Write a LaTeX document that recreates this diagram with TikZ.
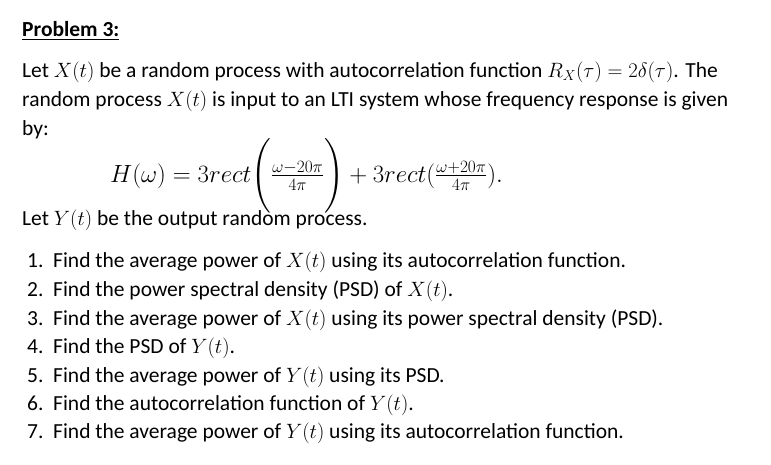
\documentclass[tikz,border=0pt]{standalone}
\usepackage{fontspec}
\usepackage{amsmath}
\setmainfont{Carlito}
\begin{document}
\begin{tikzpicture}[x=1pt,y=-1pt]
\useasboundingbox (0,0) rectangle (771,464);
\tikzset{ln/.style={anchor=base west,inner sep=0pt,font=\fontsize{21.5}{25}\selectfont}}
\node[ln,font=\fontsize{21.5}{25}\selectfont\bfseries] (title) at (22,36) {\underline{Problem 3:}};
\node[ln] (l1) at (22,77) {Let $X(t)$ be a random process with autocorrelation function $R_X(\tau)=2\delta(\tau)$. The};
\node[ln] (l2) at (22,106) {random process $X(t)$ is input to an LTI system whose frequency response is given};
\node[ln] (l3) at (22,135) {by:};
\node[ln,font=\fontsize{23}{27}\selectfont] (eq) at (110,182) {$H(\omega)=3rect\Biggl(\frac{\omega-20\pi}{4\pi}\Biggr)+3rect(\frac{\omega+20\pi}{4\pi}).$};
\node[ln] (l4) at (22,225) {Let $Y(t)$ be the output random process.};
\foreach \n/\y/\t in {1/267/{Find the average power of $X(t)$ using its autocorrelation function.},
 2/296/{Find the power spectral density (PSD) of $X(t)$.},
 3/325/{Find the average power of $X(t)$ using its power spectral density (PSD).},
 4/353/{Find the PSD of $Y(t)$.},
 5/382/{Find the average power of $Y(t)$ using its PSD.},
 6/410/{Find the autocorrelation function of $Y(t)$.},
 7/438/{Find the average power of $Y(t)$ using its autocorrelation function.}}{
 \node[ln] (n\n) at (27,\y) {\n.};
 \node[ln] (t\n) at (53,\y) {\t};
}
\end{tikzpicture}
\end{document}
